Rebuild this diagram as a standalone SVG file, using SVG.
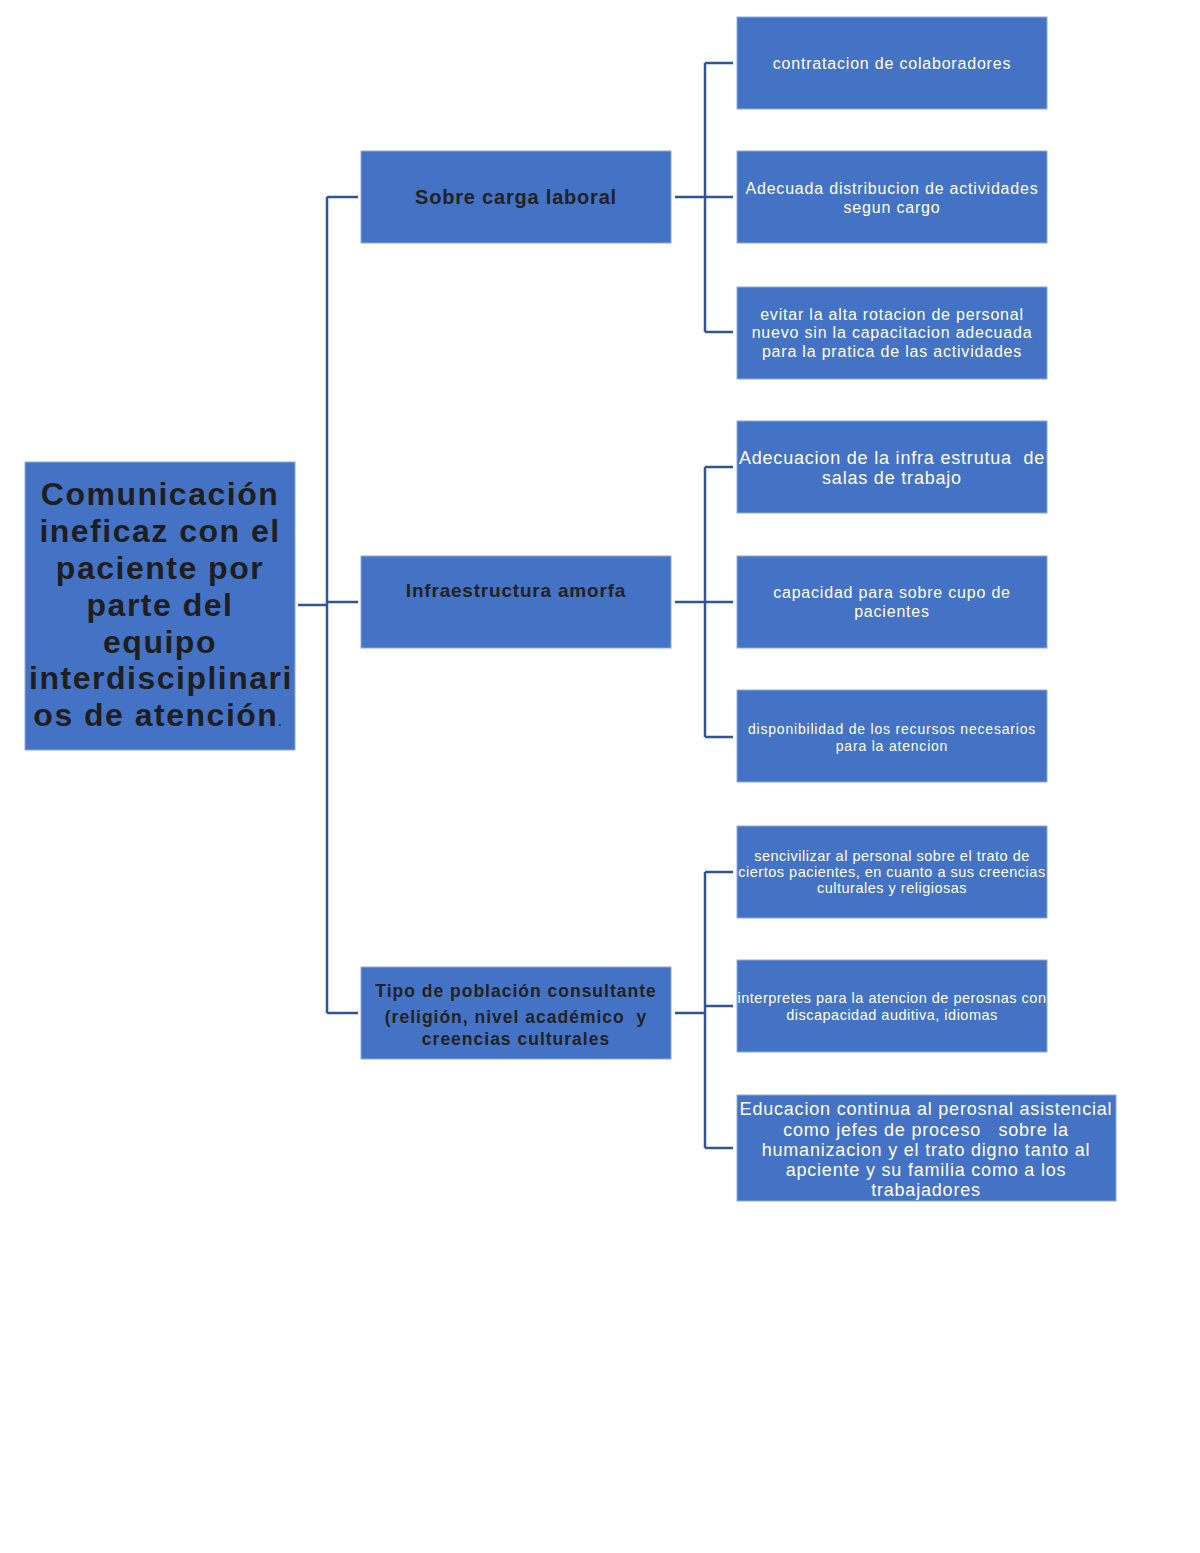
<svg xmlns="http://www.w3.org/2000/svg" width="1200" height="1553" viewBox="0 0 1200 1553">
<style>
text{white-space:pre}
.box{fill:#4472c4;stroke:#8faadc;stroke-width:1}
.con{fill:none;stroke:#2f5597;stroke-width:2.5}
.root{font-family:"Liberation Sans",Arial,sans-serif;font-weight:bold;font-size:32px;fill:#1e1e1e;text-anchor:middle;letter-spacing:1.5px}
.mid{font-family:"Liberation Sans",Arial,sans-serif;font-weight:bold;fill:#222;text-anchor:middle;letter-spacing:0.8px}
.leaf{font-family:"Liberation Sans",Arial,sans-serif;fill:#fff;text-anchor:middle;letter-spacing:0.8px}
</style>
<rect width="1200" height="1553" fill="#fff"/>
<g id="connectors">
<path class="con" d="M298 605 H327 M327 197 V1013 M327 197 H358 M327 602 H358 M327 1013 H358"/>
<path class="con" d="M675 197 H705 M705 63 V332 M705 63 H733 M705 197 H733 M705 332 H733"/>
<path class="con" d="M675 602 H705 M705 467 V737 M705 467 H733 M705 602 H733 M705 737 H733"/>
<path class="con" d="M675 1013 H705 M705 872 V1148 M705 872 H733 M705 1006 H733 M705 1148 H733"/>
</g>
<g id="root">
<rect class="box" x="25" y="462" width="270" height="288"/>
<text class="root"><tspan x="160" y="505">Comunicación</tspan><tspan x="160" y="542">ineficaz con el</tspan><tspan x="160" y="579">paciente por</tspan><tspan x="160" y="616">parte del</tspan><tspan x="160" y="653">equipo</tspan><tspan x="161" y="689">interdisciplinari</tspan><tspan x="158" y="726">os de atención<tspan font-size="10px">.</tspan></tspan></text>
</g>
<g id="sobrecarga">
<rect class="box" x="361" y="151" width="310" height="92"/>
<text class="mid" font-size="20px"><tspan x="516" y="204">Sobre carga laboral</tspan></text>
</g>
<g id="infraestructura">
<rect class="box" x="361" y="556" width="310" height="92"/>
<text class="mid" font-size="19px"><tspan x="516" y="597">Infraestructura amorfa</tspan></text>
</g>
<g id="tipopoblacion">
<rect class="box" x="361" y="967" width="310" height="92"/>
<text class="mid" font-size="17.5px" style="letter-spacing:1px"><tspan x="516" y="997">Tipo de población consultante</tspan><tspan x="516" y="1023">(religión, nivel académico  y</tspan><tspan x="516" y="1045">creencias culturales</tspan></text>
</g>
<g id="leaf1">
<rect class="box" x="737" y="17" width="310" height="92"/>
<text class="leaf" font-size="16px"><tspan x="892" y="69">contratacion de colaboradores</tspan></text>
</g>
<g id="leaf2">
<rect class="box" x="737" y="151" width="310" height="92"/>
<text class="leaf" font-size="16px"><tspan x="892" y="194">Adecuada distribucion de actividades</tspan><tspan x="892" y="213">segun cargo</tspan></text>
</g>
<g id="leaf3">
<rect class="box" x="737" y="287" width="310" height="92"/>
<text class="leaf" font-size="16px"><tspan x="892" y="320">evitar la alta rotacion de personal</tspan><tspan x="892" y="338">nuevo sin la capacitacion adecuada</tspan><tspan x="892" y="357">para la pratica de las actividades</tspan></text>
</g>
<g id="leaf4">
<rect class="box" x="737" y="421" width="310" height="92"/>
<text class="leaf" font-size="18px"><tspan x="892" y="464">Adecuacion de la infra estrutua  de</tspan><tspan x="892" y="484">salas de trabajo</tspan></text>
</g>
<g id="leaf5">
<rect class="box" x="737" y="556" width="310" height="92"/>
<text class="leaf" font-size="16px"><tspan x="892" y="598">capacidad para sobre cupo de</tspan><tspan x="892" y="617">pacientes</tspan></text>
</g>
<g id="leaf6">
<rect class="box" x="737" y="690" width="310" height="92"/>
<text class="leaf" font-size="14px"><tspan x="892" y="734">disponibilidad de los recursos necesarios</tspan><tspan x="892" y="751">para la atencion</tspan></text>
</g>
<g id="leaf7">
<rect class="box" x="737" y="826" width="310" height="92"/>
<text class="leaf" font-size="14.5px" style="letter-spacing:0.5px"><tspan x="892" y="861">sencivilizar al personal sobre el trato de</tspan><tspan x="892" y="877">ciertos pacientes, en cuanto a sus creencias</tspan><tspan x="892" y="893">culturales y religiosas</tspan></text>
</g>
<g id="leaf8">
<rect class="box" x="737" y="960" width="310" height="92"/>
<text class="leaf" font-size="14.5px" style="letter-spacing:0.5px"><tspan x="892" y="1003">interpretes para la atencion de perosnas con</tspan><tspan x="892" y="1020">discapacidad auditiva, idiomas</tspan></text>
</g>
<g id="leaf9">
<rect class="box" x="737" y="1095" width="379" height="106"/>
<text class="leaf" font-size="18px"><tspan x="926" y="1115">Educacion continua al perosnal asistencial</tspan><tspan x="926" y="1136">como jefes de proceso   sobre la</tspan><tspan x="926" y="1156">humanizacion y el trato digno tanto al</tspan><tspan x="926" y="1176">apciente y su familia como a los</tspan><tspan x="926" y="1196">trabajadores</tspan></text>
</g>
</svg>
